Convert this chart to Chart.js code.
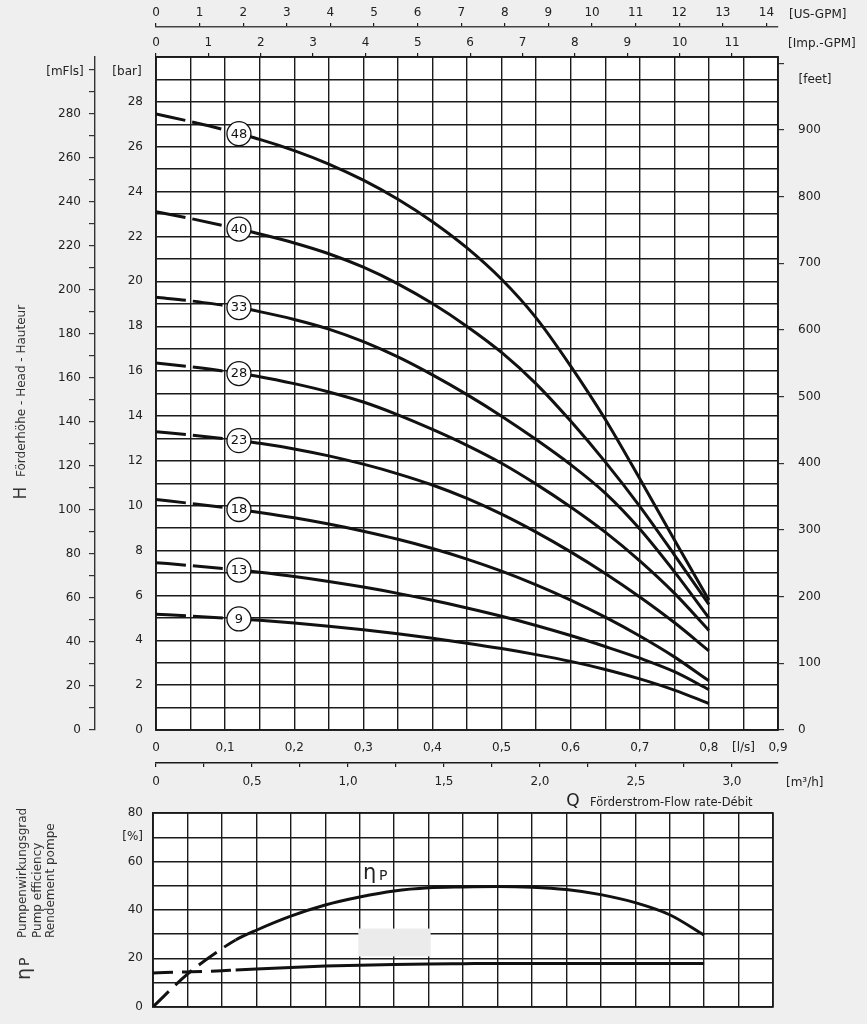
<!DOCTYPE html>
<html><head><meta charset="utf-8">
<script src="https://cdn.jsdelivr.net/npm/chart.js@4.4.1/dist/chart.umd.min.js"></script>
<style>
html,body{margin:0;padding:0;background:#efefef;}
#wrap{position:relative;width:867px;height:1024px;overflow:hidden;background:#efefef;}
#c1{position:absolute;left:0;top:0;}
#c2{position:absolute;left:0;top:790px;}
</style></head><body>
<div id="wrap"><canvas id="c1" width="867" height="812"></canvas><canvas id="c2" width="867" height="234"></canvas></div>
<script>
// ---------- DATA ----------
const stages = ['48','40','33','28','23','18','13','9'];
const flow = [0,0.05,0.10,0.12,0.15,0.20,0.25,0.30,0.35,0.40,0.45,0.50,0.55,0.60,0.65,0.70,0.75,0.80]; // l/s
const h48 = [27.46,27.12,26.75,26.58,26.33,25.83,25.23,24.51,23.66,22.66,21.49,20.09,18.37,16.22,13.85,11.20,8.48,5.80];
const h40 = [23.10,22.80,22.47,22.33,22.11,21.71,21.23,20.63,19.89,19.01,17.99,16.83,15.43,13.77,11.95,9.97,7.81,5.60];
const h33 = [19.29,19.13,18.92,18.83,18.65,18.30,17.87,17.31,16.63,15.83,14.95,13.99,12.95,11.83,10.56,8.96,7.06,5.00];
const h28 = [16.36,16.19,15.99,15.89,15.75,15.44,15.07,14.62,14.05,13.40,12.69,11.89,10.96,9.94,8.82,7.54,6.10,4.44];
const h23 = [13.30,13.15,12.98,12.90,12.78,12.53,12.22,11.85,11.42,10.92,10.32,9.62,8.82,7.94,6.98,5.93,4.79,3.53];
const h18 = [10.27,10.10,9.91,9.83,9.70,9.46,9.18,8.86,8.50,8.09,7.62,7.08,6.47,5.79,5.03,4.19,3.26,2.19];
const h13 = [7.46,7.33,7.19,7.13,7.03,6.84,6.62,6.37,6.09,5.78,5.44,5.07,4.66,4.21,3.72,3.20,2.60,1.80];
const h9  = [5.16,5.08,4.99,4.95,4.89,4.77,4.63,4.47,4.29,4.09,3.87,3.63,3.36,3.06,2.70,2.28,1.78,1.18];
const heads = [h48,h40,h33,h28,h23,h18,h13,h9];
const LABEL_Q = 0.12;        // flow where the stage circle sits (end of dashed part)

const effFlow = [0,0.05,0.10,0.12,0.15,0.20,0.25,0.30,0.35,0.40,0.45,0.50,0.55,0.60,0.65,0.70,0.75,0.80];
const etaP  = [0,13.5,24.0,27.6,31.6,37.4,42.0,45.3,47.8,49.1,49.5,49.7,49.4,48.4,46.3,43.0,38.0,29.6];
const eta2  = [14.0,14.4,14.9,15.2,15.6,16.2,16.8,17.2,17.5,17.7,17.8,17.9,17.9,17.9,17.9,17.9,17.9,17.9];
const DASH_Q = 0.12;

// tick values of the secondary scales
const mflsTicks = [0,10,20,30,40,50,60,70,80,90,100,110,120,130,140,150,160,170,180,190,200,210,220,230,240,250,260,270,280,290,300];
const feetTicks = [0,100,200,300,400,500,600,700,800,900,1000];
const usGpmTicks = [0,1,2,3,4,5,6,7,8,9,10,11,12,13,14];
const impGpmTicks = [0,1,2,3,4,5,6,7,8,9,10,11];
const m3hTicks = [0,0.25,0.5,0.75,1.0,1.25,1.5,1.75,2.0,2.25,2.5,2.75,3.0];

// unit conversions for secondary axes
const M_PER_BAR = 10.197, FT_PER_BAR = 33.65, USGPM_PER_LS = 15.850, IMPGPM_PER_LS = 13.198, M3H_PER_LS = 3.6;
const Q_MAX = 0.9, BAR_MAX = 30, EFF_MAX = 80;

// ---------- STYLE ----------
const FONT = '"DejaVu Sans", Verdana, sans-serif';
const INK = '#1b1b1b', TXT = '#222';
Chart.defaults.font.family = FONT;
Chart.defaults.font.size = 12;
Chart.defaults.color = TXT;

const comma = v => { const r = Math.round(v*100)/100; return r === 0 ? '0' : r.toFixed(1).replace('.', ','); };
const gridMain = {color: INK, lineWidth: 1.4, drawTicks: false};
const borderMain = {color: INK, width: 1.6};
const fixTicks = arr => sc => { sc.ticks = arr.map(v => ({value: v})); };

const whitePlot = {
  id: 'whitePlot',
  beforeDraw(chart){ const a = chart.chartArea, c = chart.ctx; c.save(); c.fillStyle = '#fff'; c.fillRect(a.left, a.top, a.right-a.left, a.bottom-a.top); c.restore(); }
};
const frame = {
  id: 'frame',
  beforeDatasetsDraw(chart){ const a = chart.chartArea, c = chart.ctx; c.save(); c.strokeStyle = INK; c.lineWidth = 1.6; c.strokeRect(a.left, a.top, a.right-a.left, a.bottom-a.top); c.restore(); }
};

function vtext(ctx, txt, x, y, font, align){
  ctx.save(); ctx.translate(x, y); ctx.rotate(-Math.PI/2); ctx.font = font; ctx.textAlign = align || 'left'; ctx.textBaseline = 'middle'; ctx.fillText(txt, 0, 0); ctx.restore();
}

const mainTexts = {
  id: 'mainTexts',
  afterDraw(chart){
    const c = chart.ctx, s = chart.scales;
    c.save(); c.fillStyle = TXT; c.font = '12px ' + FONT; c.textBaseline = 'middle';
    c.textAlign = 'center';
    const yUnit = s.y.getPixelForValue(29.35);
    c.fillText('[mFls]', s.ym.right - 30, yUnit);
    c.fillText('[bar]', s.y.right - 29, yUnit);
    c.fillText('[feet]', s.yf.left + 37, s.yf.getPixelForValue(975));
    c.textAlign = 'left';
    c.fillText('[US-GPM]', s.xus.right + 11, s.xus.top + 15);
    c.fillText('[Imp.-GPM]', s.ximp.right + 10, s.ximp.top + 17);
    c.fillText('[m\u00B3/h]', s.xm.right + 8, s.xm.top + 20);
    c.font = '17px ' + FONT; c.textAlign = 'center';
    c.fillText('Q', 573, s.xm.top + 39);
    c.font = '11.5px ' + FONT; c.textAlign = 'left';
    c.fillText('F\u00F6rderstrom-Flow rate-D\u00E9bit', 590, s.xm.top + 40);
    c.fillStyle = '#333';
    vtext(c, 'H', 22, 493, '17px ' + FONT, 'center');
    vtext(c, 'F\u00F6rderh\u00F6he - Head - Hauteur', 22, 477, '12px ' + FONT, 'left');
    c.restore();
  }
};

const stageLabels = {
  id: 'stageLabels',
  afterDatasetsDraw(chart){
    const c = chart.ctx, j = flow.indexOf(LABEL_Q);
    c.save(); c.font = '13px ' + FONT; c.fillStyle = '#111'; c.textAlign = 'center'; c.textBaseline = 'middle';
    chart.data.datasets.forEach((ds, i) => { const p = chart.getDatasetMeta(i).data[j]; c.fillText(ds.label, p.x, p.y + 0.5); });
    c.restore();
  }
};

// ---------- MAIN CHART ----------
const datasets = stages.map((s, i) => ({
  label: s,
  data: flow.map((q, j) => ({x: q, y: heads[i][j]})),
  borderColor: '#111', borderWidth: 3, fill: false,
  cubicInterpolationMode: 'monotone',
  pointRadius: ctx => (ctx.raw && ctx.raw.x === LABEL_Q) ? 12 : 0,
  pointHoverRadius: ctx => (ctx.raw && ctx.raw.x === LABEL_Q) ? 12 : 0,
  pointBackgroundColor: '#fff', pointBorderColor: '#111', pointBorderWidth: 1.3,
  segment: { borderDash: ctx => ctx.p1.parsed.x <= LABEL_Q + 1e-9 ? [30, 7] : undefined }
}));

new Chart(document.getElementById('c1'), {
  type: 'line',
  data: { datasets },
  options: {
    responsive: false, animation: false, devicePixelRatio: 1,
    layout: { padding: 0 },
    plugins: { legend: {display: false}, tooltip: {enabled: false} },
    scales: {
      x: { type: 'linear', position: 'bottom', weight: 0, min: 0, max: Q_MAX,
        ticks: { stepSize: 0.05, autoSkip: false, maxRotation: 0, padding: 11,
          callback: v => { const k = Math.round(v*100); if (k % 10 === 0) return comma(v); if (k === 85) return '[l/s]'; return ''; } },
        grid: gridMain, border: borderMain, afterFit: sc => { sc.height = 33; } },
      xm: { type: 'linear', axis: 'x', position: 'bottom', weight: 1, min: 0, max: Q_MAX*M3H_PER_LS,
        afterBuildTicks: fixTicks(m3hTicks),
        ticks: { autoSkip: false, maxRotation: 0, padding: 8,
          callback: v => { const k = Math.round(v*100); return k % 50 === 0 ? comma(v) : ''; } },
        grid: { drawOnChartArea: false, tickLength: 4, color: INK, lineWidth: 1.2 }, border: borderMain,
        afterFit: sc => { sc.height = 49; } },
      ximp: { type: 'linear', axis: 'x', position: 'top', weight: 0, min: 0, max: Q_MAX*IMPGPM_PER_LS,
        afterBuildTicks: fixTicks(impGpmTicks),
        ticks: { autoSkip: false, maxRotation: 0, padding: 3, callback: v => String(Math.round(v)) },
        grid: { drawOnChartArea: false, tickLength: 4, color: INK, lineWidth: 1.2 }, border: borderMain,
        afterFit: sc => { sc.height = 30; } },
      xus: { type: 'linear', axis: 'x', position: 'top', weight: 1, min: 0, max: Q_MAX*USGPM_PER_LS,
        afterBuildTicks: fixTicks(usGpmTicks),
        ticks: { autoSkip: false, maxRotation: 0, padding: 3, callback: v => String(Math.round(v)) },
        grid: { drawOnChartArea: false, tickLength: 4, color: INK, lineWidth: 1.2 }, border: {color: '#444', width: 1.5},
        afterFit: sc => { sc.height = 27; } },
      y: { type: 'linear', position: 'left', weight: 0, min: 0, max: BAR_MAX,
        ticks: { stepSize: 1, autoSkip: false, padding: 13, callback: v => (v % 2 === 0 && v <= 28) ? String(v) : '' },
        grid: gridMain, border: borderMain, afterFit: sc => { sc.width = 61; } },
      ym: { type: 'linear', axis: 'y', position: 'left', weight: 1, min: 0, max: BAR_MAX*M_PER_BAR,
        afterBuildTicks: fixTicks(mflsTicks),
        ticks: { autoSkip: false, padding: 8, callback: v => (v % 20 === 0 && v <= 280) ? String(v) : '' },
        grid: { drawOnChartArea: false, tickLength: 6, color: '#333', lineWidth: 1.2 }, border: {color: '#333', width: 1.4},
        afterFit: sc => { sc.width = 95; } },
      yf: { type: 'linear', axis: 'y', position: 'right', weight: 0, min: 0, max: BAR_MAX*FT_PER_BAR,
        afterBuildTicks: fixTicks(feetTicks),
        ticks: { autoSkip: false, padding: 14, callback: v => v <= 900 ? String(v) : '' },
        grid: { drawOnChartArea: false, tickLength: 6, color: '#333', lineWidth: 1.2 }, border: borderMain,
        afterFit: sc => { sc.width = 89; } }
    }
  },
  plugins: [whitePlot, frame, stageLabels, mainTexts]
});

// ---------- EFFICIENCY CHART ----------
const effTexts = {
  id: 'effTexts',
  beforeDatasetsDraw(chart){
    const c = chart.ctx, s = chart.scales;
    const x0 = s.x.getPixelForValue(0.298), x1 = s.x.getPixelForValue(0.403);
    const y0 = s.y.getPixelForValue(32.3), y1 = s.y.getPixelForValue(20.8);
    c.save(); c.fillStyle = '#ebebeb'; c.fillRect(x0, y0, x1-x0, y1-y0); c.restore();
  },
  afterDraw(chart){
    const c = chart.ctx, s = chart.scales;
    c.save(); c.fillStyle = TXT; c.textBaseline = 'middle'; c.textAlign = 'left';
    const px = s.x.getPixelForValue(0.305), py = s.y.getPixelForValue(55);
    c.font = '21px ' + FONT; c.fillText('\u03B7', px, py);
    c.font = '14px ' + FONT; c.fillText('P', px + 16, py + 3);
    c.fillStyle = '#333';
    vtext(c, 'Pumpenwirkungsgrad', 23, 148, '12px ' + FONT);
    vtext(c, 'Pump efficiency', 38, 148, '12px ' + FONT);
    vtext(c, 'Rendement pompe', 51, 148, '12px ' + FONT);
    vtext(c, '\u03B7', 25, 190, '19px ' + FONT);
    vtext(c, 'P', 25, 176, '14px ' + FONT);
    c.restore();
  }
};

const effSet = (vals, dash) => ({
  data: effFlow.map((q, j) => ({x: q, y: vals[j]})),
  borderColor: '#111', borderWidth: 3, fill: false, pointRadius: 0, pointHoverRadius: 0,
  cubicInterpolationMode: 'monotone',
  segment: { borderDash: ctx => ctx.p1.parsed.x <= DASH_Q + 1e-9 ? dash : undefined }
});

new Chart(document.getElementById('c2'), {
  type: 'line',
  data: { datasets: [effSet(etaP, [22, 9]), effSet(eta2, [20, 9])] },
  options: {
    responsive: false, animation: false, devicePixelRatio: 1,
    layout: { padding: { top: 23, right: 94, bottom: 0, left: 0 } },
    plugins: { legend: {display: false}, tooltip: {enabled: false} },
    scales: {
      x: { type: 'linear', min: 0, max: Q_MAX, ticks: { display: false, stepSize: 0.05 },
        grid: gridMain, border: borderMain, afterFit: sc => { sc.height = 3; } },
      y: { type: 'linear', min: 0, max: EFF_MAX,
        ticks: { stepSize: 10, autoSkip: false, padding: 10, callback: v => v === 70 ? '[%]' : (v % 20 === 0 ? String(v) : '') },
        grid: gridMain, border: borderMain, afterFit: sc => { sc.width = 153; } }
    }
  },
  plugins: [whitePlot, frame, effTexts]
});
</script>
</body></html>
